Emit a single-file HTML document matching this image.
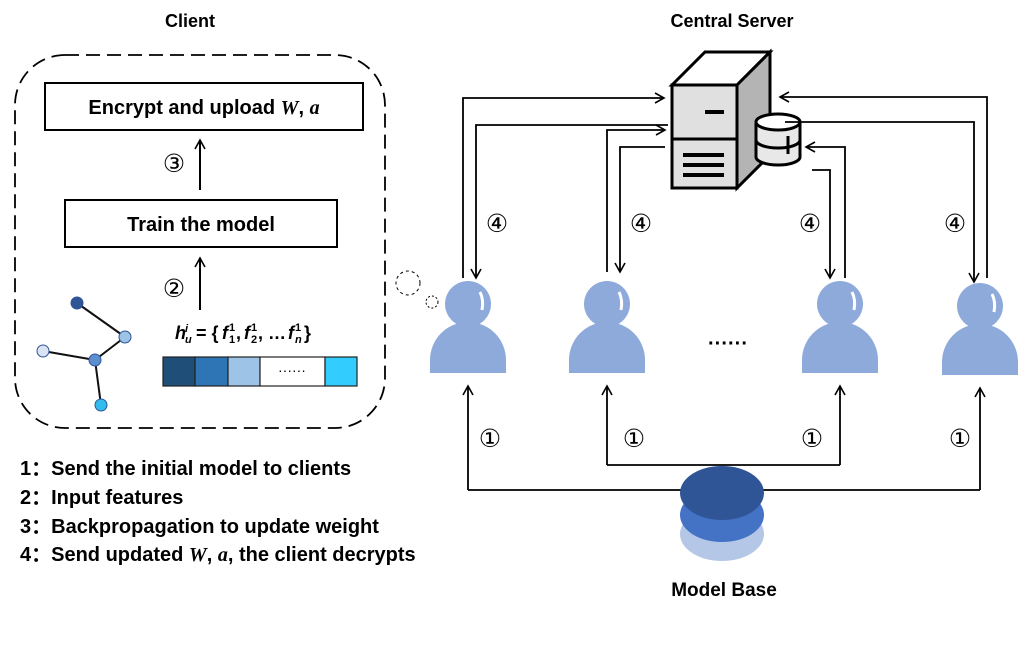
<!DOCTYPE html>
<html><head><meta charset="utf-8"><style>
html,body{margin:0;padding:0;background:#fff;}
svg{display:block;}
text{font-family:"Liberation Sans","DejaVu Sans",sans-serif;}
</style></head><body>
<svg width="1027" height="650" viewBox="0 0 1027 650" xmlns="http://www.w3.org/2000/svg">
<defs>
<marker id="ah" markerWidth="12" markerHeight="12" refX="10" refY="6" orient="auto" markerUnits="userSpaceOnUse">
<path d="M1,1 L10,6 L1,11" fill="none" stroke="#000" stroke-width="1.6"/>
</marker>
</defs>
<!-- Client panel -->
<text x="190" y="27" font-size="18" font-weight="bold" text-anchor="middle">Client</text>
<rect x="15" y="55" width="370" height="373" rx="50" fill="none" stroke="#000" stroke-width="1.8" stroke-dasharray="14,7"/>
<rect x="45" y="83" width="318" height="47" fill="#fff" stroke="#000" stroke-width="2"/>
<text x="204" y="114" font-size="20" font-weight="bold" text-anchor="middle">Encrypt and upload <tspan font-family="Liberation Serif,serif" font-style="italic">W</tspan>, <tspan font-family="Liberation Serif,serif" font-style="italic">a</tspan></text>
<rect x="65" y="200" width="272" height="47" fill="#fff" stroke="#000" stroke-width="2"/>
<text x="201" y="231" font-size="20" font-weight="bold" text-anchor="middle">Train the model</text>
<line x1="200" y1="190" x2="200" y2="140" stroke="#000" stroke-width="2" marker-end="url(#ah)"/>
<line x1="200" y1="310" x2="200" y2="258" stroke="#000" stroke-width="2" marker-end="url(#ah)"/>
<text x="174" y="172" font-size="25" text-anchor="middle">③</text>
<text x="174" y="297" font-size="25" text-anchor="middle">②</text>
<!-- graph -->
<g stroke="#111" stroke-width="2">
<line x1="77" y1="303" x2="125" y2="337"/><line x1="125" y1="337" x2="95" y2="360"/>
<line x1="43" y1="351" x2="95" y2="360"/><line x1="95" y1="360" x2="101" y2="405"/>
</g>
<g stroke="#2f5597" stroke-width="1">
<circle cx="77" cy="303" r="6" fill="#2f5597"/>
<circle cx="125" cy="337" r="6" fill="#9dc3e6"/>
<circle cx="43" cy="351" r="6" fill="#dae3f3"/>
<circle cx="95" cy="360" r="6" fill="#5b8fd0"/>
<circle cx="101" cy="405" r="6" fill="#33bbee"/>
</g>
<g font-family="Liberation Serif,serif" font-weight="bold" font-style="italic">
<text x="175" y="339" font-size="18">h</text>
<text x="185" y="332" font-size="11">i</text>
<text x="185" y="343" font-size="11">u</text>
<text x="196" y="339" font-size="18" font-style="normal">= {</text>
<text x="222" y="339" font-size="18">f</text><text x="229" y="331" font-size="11" font-style="normal">1</text><text x="229" y="343" font-size="11" font-style="normal">1</text>
<text x="236" y="339" font-size="18" font-style="normal">,</text>
<text x="244" y="339" font-size="18">f</text><text x="251" y="331" font-size="11" font-style="normal">1</text><text x="251" y="343" font-size="11" font-style="normal">2</text>
<text x="258" y="339" font-size="18" font-style="normal">, …</text>
<text x="288" y="339" font-size="18">f</text><text x="295" y="331" font-size="11" font-style="normal">1</text><text x="295" y="343" font-size="11">n</text>
<text x="304" y="339" font-size="18" font-style="normal">}</text>
</g>
<g stroke="#222" stroke-width="1.2">
<rect x="163" y="357" width="32" height="29" fill="#1f4e79"/>
<rect x="195" y="357" width="33" height="29" fill="#2e75b6"/>
<rect x="228" y="357" width="32" height="29" fill="#9dc3e6"/>
<rect x="260" y="357" width="65" height="29" fill="#fff"/>
<rect x="325" y="357" width="32" height="29" fill="#33ccff"/>
</g>
<text x="292" y="375" font-size="14" text-anchor="middle">······</text>
<!-- thought bubbles -->
<circle cx="408" cy="283" r="12" fill="none" stroke="#000" stroke-dasharray="3,3"/>
<circle cx="432" cy="302" r="6" fill="none" stroke="#000" stroke-dasharray="2,2"/>
<!-- Central server -->
<text x="732" y="27" font-size="18" font-weight="bold" text-anchor="middle">Central Server</text>
<polygon points="672,85 705,52 770,52 737,85" fill="#fff" stroke="#000" stroke-width="3"/>
<polygon points="737,85 770,52 770,155 737,188" fill="#b4b4b4" stroke="#000" stroke-width="3"/>
<rect x="672" y="85" width="65" height="103" fill="#e0e0e0" stroke="#000" stroke-width="3"/>
<line x1="672" y1="139" x2="737" y2="139" stroke="#000" stroke-width="3"/>
<line x1="705" y1="112" x2="724" y2="112" stroke="#000" stroke-width="4"/>
<line x1="683" y1="155" x2="724" y2="155" stroke="#000" stroke-width="4"/>
<line x1="683" y1="165" x2="724" y2="165" stroke="#000" stroke-width="4"/>
<line x1="683" y1="175" x2="724" y2="175" stroke="#000" stroke-width="4"/>
<path d="M756,122 L756,157 A22,8 0 0 0 800,157 L800,122" fill="#e8e8e8" stroke="#000" stroke-width="3"/>
<ellipse cx="778" cy="122" rx="22" ry="8" fill="#fff" stroke="#000" stroke-width="3"/>
<path d="M756,140 A22,8 0 0 0 800,140" fill="none" stroke="#000" stroke-width="3"/>
<line x1="788" y1="136" x2="788" y2="154" stroke="#000" stroke-width="3"/>
<!-- ④ connectors -->
<g fill="none" stroke="#000" stroke-width="1.8">
<polyline points="463,278 463,98 664,98" marker-end="url(#ah)"/>
<polyline points="668,125 476,125 476,278" marker-end="url(#ah)"/>
<polyline points="607,272 607,130 665,130" marker-end="url(#ah)"/>
<polyline points="665,147 620,147 620,272" marker-end="url(#ah)"/>
<polyline points="845,278 845,147 806,147" marker-end="url(#ah)"/>
<polyline points="812,170 830,170 830,278" marker-end="url(#ah)"/>
<polyline points="987,278 987,97 780,97" marker-end="url(#ah)"/>
<polyline points="785,122 974,122 974,282" marker-end="url(#ah)"/>
</g>
<g font-size="25" text-anchor="middle">
<text x="497" y="232">④</text><text x="641" y="232">④</text><text x="810" y="232">④</text><text x="955" y="232">④</text>
</g>
<!-- persons -->
<g fill="#8eaadb">
<g transform="translate(468,0)"><circle cx="0" cy="304" r="23"/><path d="M-38,373 L-38,360 A38,38 0 0 1 38,360 L38,373 Z"/><path d="M12,292 Q16,300 14,310" stroke="#fff" stroke-width="3" fill="none"/></g>
<g transform="translate(607,0)"><circle cx="0" cy="304" r="23"/><path d="M-38,373 L-38,360 A38,38 0 0 1 38,360 L38,373 Z"/><path d="M12,292 Q16,300 14,310" stroke="#fff" stroke-width="3" fill="none"/></g>
<g transform="translate(840,0)"><circle cx="0" cy="304" r="23"/><path d="M-38,373 L-38,360 A38,38 0 0 1 38,360 L38,373 Z"/><path d="M12,292 Q16,300 14,310" stroke="#fff" stroke-width="3" fill="none"/></g>
<g transform="translate(980,2)"><circle cx="0" cy="304" r="23"/><path d="M-38,373 L-38,360 A38,38 0 0 1 38,360 L38,373 Z"/><path d="M12,292 Q16,300 14,310" stroke="#fff" stroke-width="3" fill="none"/></g>
</g>
<text x="728" y="350" font-size="20" font-weight="bold" text-anchor="middle">······</text>
<!-- ① connectors -->
<g fill="none" stroke="#000" stroke-width="1.8">
<polyline points="468,490 980,490"/>
<polyline points="607,465 840,465"/>
<line x1="468" y1="490" x2="468" y2="386" marker-end="url(#ah)"/>
<line x1="607" y1="465" x2="607" y2="386" marker-end="url(#ah)"/>
<line x1="840" y1="465" x2="840" y2="386" marker-end="url(#ah)"/>
<line x1="980" y1="490" x2="980" y2="388" marker-end="url(#ah)"/>
</g>
<g font-size="25" text-anchor="middle">
<text x="490" y="447">①</text><text x="634" y="447">①</text><text x="812" y="447">①</text><text x="960" y="447">①</text>
</g>
<!-- model base -->
<ellipse cx="722" cy="534" rx="42" ry="27" fill="#b4c7e7"/>
<ellipse cx="722" cy="515" rx="42" ry="27" fill="#4472c4"/>
<ellipse cx="722" cy="493" rx="42" ry="27" fill="#2f5597"/>
<text x="724" y="596" font-size="19" font-weight="bold" text-anchor="middle">Model Base</text>
<!-- legend -->
<g font-size="20" font-weight="bold">
<text x="20" y="475">1：Send the initial model to clients</text>
<text x="20" y="504">2：Input features</text>
<text x="20" y="533">3：Backpropagation to update weight</text>
<text x="20" y="561">4：Send updated <tspan font-family="Liberation Serif,serif" font-style="italic">W</tspan>, <tspan font-family="Liberation Serif,serif" font-style="italic">a</tspan>, the client decrypts</text>
</g>
</svg>
</body></html>
